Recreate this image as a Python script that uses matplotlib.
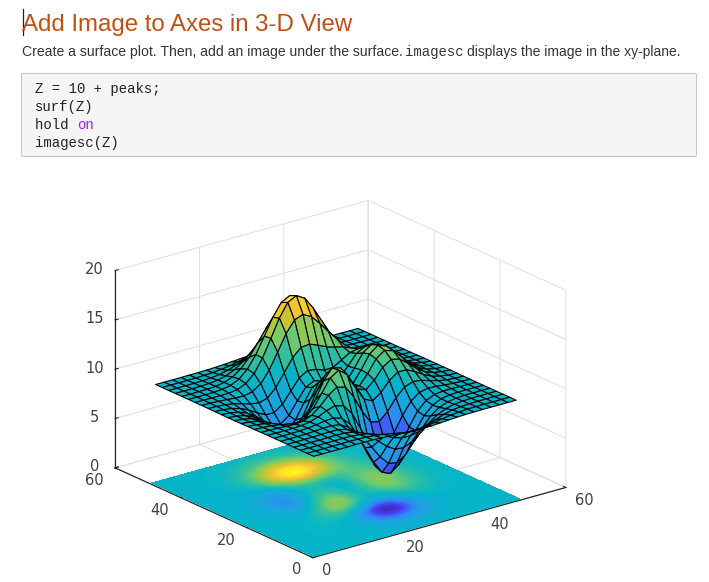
import numpy as np
from matplotlib import pyplot as plt
from matplotlib.colors import LinearSegmentedColormap, Normalize
from matplotlib.patches import FancyBboxPatch

grid_pos = [1, 3, 5, 7, 9, 11, 13, 15, 17, 19, 21, 23, 25, 27, 29, 31, 33, 35, 37, 39, 41, 43, 45, 47, 49]

# surface heights read row by row (first row is the front edge of the plot)
z_rows = [
    [10.00, 10.00, 10.00, 10.00, 10.00, 10.01, 10.00, 10.00, 9.97, 9.93, 9.86, 9.80, 9.76, 9.75, 9.78, 9.83, 9.89, 9.94, 9.97, 9.99, 10.00, 10.00, 10.00, 10.00, 10.00],
    [10.00, 10.00, 10.00, 10.00, 10.01, 10.01, 10.00, 9.98, 9.90, 9.78, 9.61, 9.44, 9.32, 9.31, 9.39, 9.54, 9.70, 9.83, 9.92, 9.97, 9.99, 10.00, 10.00, 10.00, 10.00],
    [10.00, 10.00, 10.00, 10.01, 10.01, 10.02, 10.00, 9.93, 9.77, 9.47, 9.09, 8.69, 8.43, 8.40, 8.59, 8.94, 9.31, 9.62, 9.82, 9.92, 9.97, 9.99, 10.00, 10.00, 10.00],
    [10.00, 10.00, 10.01, 10.01, 10.03, 10.04, 10.01, 9.88, 9.56, 9.01, 8.26, 7.50, 6.98, 6.90, 7.28, 7.95, 8.68, 9.27, 9.65, 9.86, 9.95, 9.99, 10.00, 10.00, 10.00],
    [10.00, 10.00, 10.01, 10.02, 10.05, 10.07, 10.05, 9.87, 9.41, 8.55, 7.36, 6.12, 5.24, 5.07, 5.65, 6.73, 7.90, 8.85, 9.47, 9.80, 9.94, 9.99, 10.00, 10.00, 10.00],
    [10.00, 10.00, 10.01, 10.03, 10.07, 10.13, 10.15, 10.02, 9.54, 8.52, 6.99, 5.30, 4.02, 3.67, 4.36, 5.76, 7.31, 8.58, 9.39, 9.80, 9.96, 10.00, 10.01, 10.00, 10.00],
    [10.00, 10.00, 10.01, 10.03, 10.08, 10.19, 10.33, 10.39, 10.15, 9.32, 7.82, 5.93, 4.32, 3.68, 4.24, 5.69, 7.37, 8.73, 9.56, 9.94, 10.04, 10.05, 10.03, 10.01, 10.00],
    [10.00, 9.99, 9.99, 9.99, 10.03, 10.17, 10.45, 10.84, 11.11, 10.88, 9.86, 8.15, 6.39, 5.40, 5.60, 6.78, 8.26, 9.44, 10.08, 10.27, 10.23, 10.13, 10.06, 10.02, 10.01],
    [9.99, 9.98, 9.94, 9.90, 9.87, 9.96, 10.30, 10.98, 11.86, 12.45, 12.23, 11.00, 9.28, 7.98, 7.78, 8.58, 9.73, 10.58, 10.88, 10.77, 10.50, 10.26, 10.11, 10.04, 10.01],
    [9.98, 9.95, 9.88, 9.75, 9.58, 9.49, 9.72, 10.50, 11.78, 13.09, 13.63, 12.94, 11.40, 9.99, 9.59, 10.20, 11.18, 11.79, 11.78, 11.35, 10.82, 10.41, 10.18, 10.06, 10.02],
    [9.98, 9.92, 9.80, 9.56, 9.20, 8.84, 8.79, 9.41, 10.80, 12.49, 13.55, 13.31, 12.00, 10.70, 10.39, 11.14, 12.20, 12.76, 12.56, 11.88, 11.12, 10.56, 10.24, 10.09, 10.03],
    [9.97, 9.90, 9.73, 9.40, 8.86, 8.22, 7.84, 8.17, 9.44, 11.23, 12.56, 12.63, 11.58, 10.53, 10.48, 11.50, 12.76, 13.37, 13.09, 12.25, 11.34, 10.67, 10.28, 10.10, 10.03],
    [9.96, 9.89, 9.70, 9.31, 8.67, 7.86, 7.23, 7.29, 8.35, 10.06, 11.48, 11.75, 10.98, 10.19, 10.38, 11.57, 12.94, 13.58, 13.27, 12.37, 11.41, 10.70, 10.30, 10.11, 10.03],
    [9.96, 9.89, 9.71, 9.33, 8.68, 7.84, 7.13, 7.02, 7.85, 9.35, 10.68, 11.06, 10.52, 9.97, 10.28, 11.47, 12.76, 13.36, 13.06, 12.22, 11.32, 10.66, 10.28, 10.10, 10.03],
    [9.97, 9.91, 9.75, 9.43, 8.88, 8.15, 7.51, 7.36, 8.00, 9.24, 10.39, 10.80, 10.46, 10.09, 10.38, 11.34, 12.38, 12.83, 12.56, 11.85, 11.09, 10.55, 10.23, 10.08, 10.03],
    [9.98, 9.93, 9.82, 9.58, 9.19, 8.67, 8.24, 8.22, 8.84, 9.95, 11.04, 11.55, 11.42, 11.12, 11.17, 11.65, 12.17, 12.32, 11.99, 11.40, 10.82, 10.41, 10.17, 10.06, 10.02],
    [9.99, 9.96, 9.89, 9.75, 9.52, 9.26, 9.14, 9.40, 10.23, 11.51, 12.79, 13.59, 13.69, 13.34, 12.94, 12.66, 12.44, 12.08, 11.58, 11.04, 10.58, 10.28, 10.11, 10.04, 10.01],
    [9.99, 9.98, 9.94, 9.88, 9.80, 9.78, 9.95, 10.55, 11.70, 13.29, 14.92, 16.07, 16.39, 15.94, 15.02, 13.97, 12.97, 12.09, 11.35, 10.79, 10.41, 10.19, 10.07, 10.03, 10.01],
    [10.00, 9.99, 9.98, 9.97, 9.99, 10.11, 10.48, 11.27, 12.61, 14.37, 16.19, 17.54, 17.99, 17.48, 16.25, 14.72, 13.25, 12.05, 11.18, 10.62, 10.29, 10.12, 10.05, 10.02, 10.00],
    [10.00, 10.00, 10.00, 10.01, 10.07, 10.24, 10.65, 11.43, 12.67, 14.29, 15.96, 17.22, 17.68, 17.20, 15.99, 14.45, 12.96, 11.78, 10.96, 10.47, 10.21, 10.08, 10.03, 10.01, 10.00],
    [10.00, 10.00, 10.01, 10.02, 10.08, 10.23, 10.55, 11.16, 12.10, 13.31, 14.56, 15.51, 15.86, 15.50, 14.57, 13.37, 12.21, 11.29, 10.68, 10.32, 10.13, 10.05, 10.02, 10.01, 10.00],
    [10.00, 10.00, 10.00, 10.02, 10.06, 10.16, 10.36, 10.74, 11.32, 12.07, 12.84, 13.43, 13.65, 13.43, 12.84, 12.09, 11.36, 10.79, 10.41, 10.19, 10.08, 10.03, 10.01, 10.00, 10.00],
    [10.00, 10.00, 10.00, 10.01, 10.03, 10.08, 10.19, 10.39, 10.69, 11.07, 11.47, 11.77, 11.88, 11.77, 11.47, 11.08, 10.70, 10.40, 10.21, 10.09, 10.04, 10.01, 10.00, 10.00, 10.00],
    [10.00, 10.00, 10.00, 10.00, 10.01, 10.04, 10.08, 10.17, 10.30, 10.47, 10.64, 10.77, 10.82, 10.77, 10.64, 10.47, 10.30, 10.17, 10.09, 10.04, 10.02, 10.01, 10.00, 10.00, 10.00],
    [10.00, 10.00, 10.00, 10.00, 10.01, 10.01, 10.03, 10.06, 10.11, 10.17, 10.23, 10.28, 10.30, 10.28, 10.23, 10.17, 10.11, 10.06, 10.03, 10.01, 10.01, 10.00, 10.00, 10.00, 10.00],
]

xy_ticks = [0, 20, 40, 60]
z_ticks = [0, 5, 10, 15, 20]

title = 'Add Image to Axes in 3-D View'
code_lines = ['Z = 10 + peaks;', 'surf(Z)', 'hold ', 'imagesc(Z)']

W, H = 709, 582


def px_x(x):
    return x / W


def px_y(y):
    return 1 - y / H


parula = LinearSegmentedColormap.from_list('parula', [
    (0.0, '#3e26a8'), (0.1, '#4743f8'), (0.2, '#2e87f7'), (0.3, '#1fa1e2'),
    (0.447, '#05b5c8'), (0.55, '#33bf9c'), (0.65, '#6fca6f'), (0.75, '#b4c736'),
    (0.85, '#f1bf3a'), (0.93, '#fbdc28'), (1.0, '#f9fb15'),
])

X, Y = np.meshgrid(grid_pos, grid_pos)
Z = np.array(z_rows)
norm = Normalize(3.45, 18.1)

fig = plt.figure(figsize=(W / 100, H / 100), dpi=100)

# page text above the plot
fig.text(px_x(22), px_y(31), title, family='Liberation Sans', fontsize=17.3, color='#c04f15')
fig.add_artist(plt.Line2D([px_x(22.5), px_x(22.5)], [px_y(9), px_y(35)], color='#222222', lw=0.9))
fig.text(px_x(22), px_y(56), 'Create a surface plot. Then, add an image under the surface.',
         family='Liberation Sans', fontsize=10.05, color='#333333')
fig.text(px_x(405), px_y(56), 'imagesc', family='Liberation Mono', fontsize=10.1, color='#333333')
fig.text(px_x(467), px_y(56), 'displays the image in the xy-plane.',
         family='Liberation Sans', fontsize=10.0, color='#333333')

box = FancyBboxPatch((px_x(21.5), px_y(156.5)), 675 / W, 83 / H, boxstyle='round,pad=0,rounding_size=0.002',
                     transform=fig.transFigure, facecolor='#f5f5f5', edgecolor='#c8c8c8', lw=0.8)
fig.add_artist(box)
for i, line in enumerate(code_lines):
    fig.text(px_x(35), px_y(93 + i * 18), line, family='Liberation Mono', fontsize=10.1, color='#222222')
fig.text(px_x(77), px_y(93 + 2 * 18), 'on', family='Liberation Mono', fontsize=10.1, color='#a020f0')

# the MATLAB view stretches the box to the figure, so the axes are not kept square
ax = fig.add_subplot(projection='3d', computed_zorder=False)
ax.apply_aspect = lambda position=None: None
ax.set_position([63.2 / W, (H - 575.7) / H, 540 / W, 383 / H])
ax.patch.set_alpha(0)
ax.set_box_aspect((1, 1, 1))
ax.set_proj_type('ortho')
ax.view_init(elev=30, azim=-128)

# image cells reach half a step past the first and last grid position
X_img = 0.5 + (X - 1) * 49 / 48
Y_img = 0.5 + (Y - 1) * 49 / 48
ax.contourf(X_img, Y_img, Z, levels=np.linspace(3.4, 18.2, 90), zdir='z', offset=0, cmap=parula, norm=norm,
            antialiased=False, zorder=1)
ax.plot_surface(X, Y, Z, rstride=1, cstride=1, facecolors=parula(norm(Z)), edgecolor='#050505',
                linewidth=0.8, shade=False, antialiased=True, zorder=2)

ax.set_xlim(0, 60, view_margin=0)
ax.set_ylim(0, 60, view_margin=0)
ax.set_zlim(0, 20, view_margin=0)
ax.set_xticks(xy_ticks)
ax.set_yticks(xy_ticks)
ax.set_zticks(z_ticks)

for axis in (ax.xaxis, ax.yaxis, ax.zaxis):
    axis.set_pane_color((1, 1, 1, 0))
    axis.pane.set_edgecolor('#c4c4c4')
    axis.pane.set_linewidth(0.7)
    axis.line.set_color('#262626')
    axis.line.set_linewidth(0.9)
    axis._axinfo['grid'].update(color='#dedede', linewidth=0.7)
    axis._axinfo['tick'].update(inward_factor=0.0, outward_factor=0.15)
ax.tick_params(axis='both', labelsize=10.5, labelcolor='#404040', color='#262626', pad=0)

for label in ax.xaxis.get_ticklabels():
    label.set_ha('left')
    label.set_va('center')
for label in ax.yaxis.get_ticklabels():
    label.set_ha('right')
    label.set_va('center')
for label in ax.zaxis.get_ticklabels():
    label.set_va('center')

fig.savefig('out.png', dpi=100)
